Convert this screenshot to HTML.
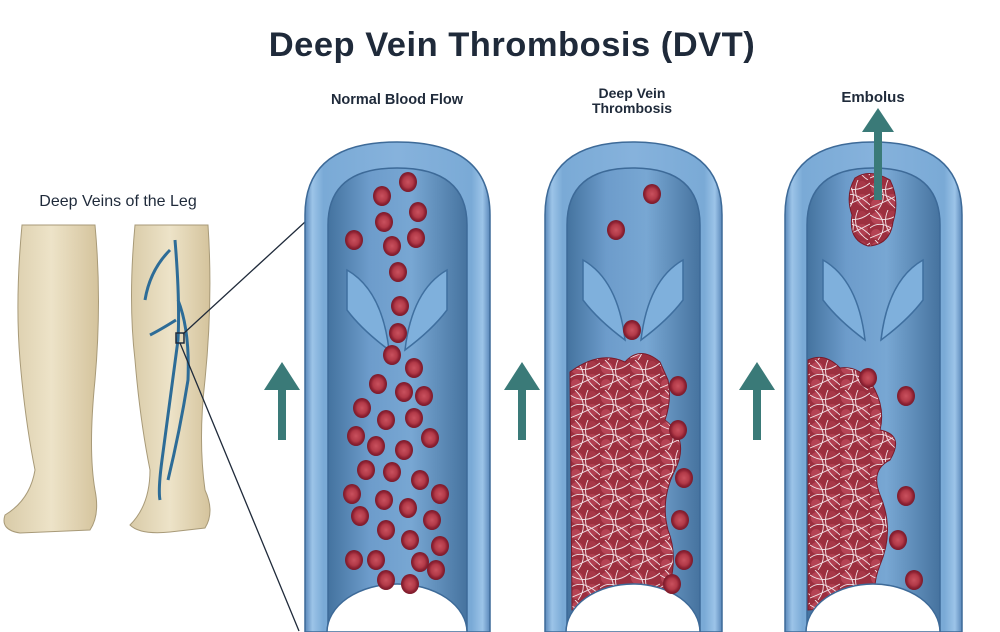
<!DOCTYPE html>
<html><head><meta charset="utf-8">
<style>
html,body{margin:0;padding:0;background:#fff;}
body{width:1000px;height:632px;overflow:hidden;font-family:"Liberation Sans",sans-serif;}
svg{display:block;overflow:hidden;}
</style></head>
<body>
<svg width="1000" height="632" viewBox="0 0 1000 632" xmlns="http://www.w3.org/2000/svg">
<defs>
<linearGradient id="wall" x1="0" x2="1" y1="0" y2="0">
<stop offset="0" stop-color="#5a88ba"/><stop offset="0.04" stop-color="#9cc4e8"/><stop offset="0.1" stop-color="#7aaad6"/><stop offset="0.5" stop-color="#86b2dc"/><stop offset="0.9" stop-color="#7aaad6"/><stop offset="0.96" stop-color="#9cc4e8"/><stop offset="1" stop-color="#5a88ba"/>
</linearGradient>
<linearGradient id="lumen" x1="0" x2="1" y1="0" y2="0">
<stop offset="0" stop-color="#44739f"/><stop offset="0.3" stop-color="#6d9ccb"/><stop offset="0.6" stop-color="#78a7d3"/><stop offset="1" stop-color="#46739f"/>
</linearGradient>
<radialGradient id="rbc" cx="0.5" cy="0.5" r="0.5">
<stop offset="0" stop-color="#c9515e"/><stop offset="0.55" stop-color="#b23a48"/><stop offset="0.8" stop-color="#8e2233"/><stop offset="1" stop-color="#7a1a2a"/>
</radialGradient>
<linearGradient id="skin" x1="0" x2="1"><stop offset="0" stop-color="#d9cba8"/><stop offset="0.5" stop-color="#ede3c8"/><stop offset="1" stop-color="#d4c39c"/></linearGradient>
<pattern id="fib" width="30" height="30" patternUnits="userSpaceOnUse">
<rect width="30" height="30" fill="#9c2f3f"/>
<circle cx="7" cy="8" r="6" fill="#b64455"/><circle cx="22" cy="20" r="6" fill="#b03f50"/><circle cx="22" cy="5" r="4" fill="#a83848"/><circle cx="6" cy="24" r="5" fill="#b54354"/>
<path d="M0 5 Q15 15 30 3 M0 18 Q12 8 30 25 M5 0 Q20 14 8 30 M18 0 Q10 18 28 30 M0 28 Q15 22 30 14" stroke="#f3e6ea" stroke-width="0.9" fill="none"/>
</pattern>
<g id="cell"><ellipse rx="9" ry="10" fill="url(#rbc)"/></g>
<g id="valve">
<path d="M-50 0 Q-15 20 -8 80 Q-35 60 -50 40 Z" fill="#7fb0dc" stroke="#3f6f9f" stroke-width="1.5"/>
<path d="M50 0 Q15 20 8 80 Q35 60 50 40 Z" fill="#7fb0dc" stroke="#3f6f9f" stroke-width="1.5"/>
</g>
</defs>

<text x="512" y="56" text-anchor="middle" font-size="34.5" font-weight="bold" letter-spacing="0.5" fill="#1f2a3a">Deep Vein Thrombosis (DVT)</text>
<text x="397" y="104" text-anchor="middle" font-size="14.5" font-weight="bold" fill="#1f2a3a">Normal Blood Flow</text>
<text x="632" y="98" text-anchor="middle" font-size="14" font-weight="bold" fill="#1f2a3a">Deep Vein</text>
<text x="632" y="113" text-anchor="middle" font-size="14" font-weight="bold" fill="#1f2a3a">Thrombosis</text>
<text x="873" y="102" text-anchor="middle" font-size="15" font-weight="bold" fill="#1f2a3a">Embolus</text>
<text x="118" y="206" text-anchor="middle" font-size="16" fill="#1f2a3a">Deep Veins of the Leg</text>

<path d="M22 225 Q15 300 20 360 Q25 420 35 470 Q30 500 5 515 Q0 530 20 533 L90 530 Q100 515 95 490 Q88 450 95 380 Q102 300 95 225 Z" fill="url(#skin)" stroke="#a89a78" stroke-width="1"/>
<path d="M135 225 Q128 300 135 360 Q140 420 150 470 Q150 505 130 525 Q140 535 170 532 L205 528 Q215 512 205 490 Q198 440 205 380 Q213 300 208 225 Z" fill="url(#skin)" stroke="#a89a78" stroke-width="1"/>
<path d="M175 240 Q180 300 178 340 Q170 400 162 460 Q158 490 160 500 M178 300 Q190 330 188 380 Q180 430 168 480 M170 250 Q150 270 145 300 M176 320 Q160 330 150 335" stroke="#2d6c97" stroke-width="3" fill="none"/>
<rect x="176" y="333" width="8" height="10" fill="none" stroke="#1f2a3a" stroke-width="1.5"/>
<line x1="183" y1="334" x2="305" y2="222" stroke="#1f2a3a" stroke-width="1.3"/>
<line x1="180" y1="343" x2="299" y2="631" stroke="#1f2a3a" stroke-width="1.3"/>

<g fill="#3a7a78">
<rect x="278" y="385" width="8" height="55"/><polygon points="264,390 282,362 300,390"/>
<rect x="518" y="385" width="8" height="55"/><polygon points="504,390 522,362 540,390"/>
<rect x="753" y="385" width="8" height="55"/><polygon points="739,390 757,362 775,390"/>
</g>

<path d="M305 632 L305 215 Q305 142 397 142 Q490 142 490 215 L490 632 Z" fill="url(#wall)" stroke="#3d6a98" stroke-width="1.5"/>
<path d="M328 632 L328 225 Q328 168 397 168 Q467 168 467 225 L467 632 Z" fill="url(#lumen)" stroke="#3d6a98" stroke-width="1.5"/>
<path d="M545 632 L545 215 Q545 142 633 142 Q722 142 722 215 L722 632 Z" fill="url(#wall)" stroke="#3d6a98" stroke-width="1.5"/>
<path d="M567 632 L567 225 Q567 168 633 168 Q700 168 700 225 L700 632 Z" fill="url(#lumen)" stroke="#3d6a98" stroke-width="1.5"/>
<path d="M785 632 L785 215 Q785 142 873 142 Q962 142 962 215 L962 632 Z" fill="url(#wall)" stroke="#3d6a98" stroke-width="1.5"/>
<path d="M807 632 L807 225 Q807 168 873 168 Q940 168 940 225 L940 632 Z" fill="url(#lumen)" stroke="#3d6a98" stroke-width="1.5"/>

<use href="#valve" x="397" y="270"/>
<use href="#valve" x="633" y="260"/>
<use href="#valve" x="873" y="260"/>

<path d="M570 372 Q600 350 625 362 Q640 345 660 362 L668 380 Q672 400 665 420 Q690 440 675 470 Q660 500 668 530 Q680 560 665 600 L572 610 Z" fill="url(#fib)" stroke="#7a1a2a" stroke-width="1"/>
<path d="M808 360 Q825 352 840 368 Q862 365 875 390 Q885 410 880 430 Q905 435 890 460 Q870 470 880 495 Q895 530 880 565 Q870 590 880 605 L808 610 Z" fill="url(#fib)" stroke="#7a1a2a" stroke-width="1"/>
<path d="M855 178 Q870 168 890 180 Q900 200 893 222 Q890 245 868 246 Q848 240 852 215 Q845 195 855 178 Z" fill="url(#fib)" stroke="#7a1a2a" stroke-width="1"/>
<rect x="874" y="128" width="8" height="72" fill="#3a7a78"/>
<polygon points="862,132 878,108 894,132" fill="#3a7a78"/>

<path d="M327 632 A70 48 0 0 1 467 632 Z" fill="#fff" stroke="#3d6a98" stroke-width="1.5"/>
<path d="M566 632 A67 48 0 0 1 700 632 Z" fill="#fff" stroke="#3d6a98" stroke-width="1.5"/>
<path d="M806 632 A67 48 0 0 1 940 632 Z" fill="#fff" stroke="#3d6a98" stroke-width="1.5"/>

<g>
<use href="#cell" x="382" y="196"/><use href="#cell" x="408" y="182"/><use href="#cell" x="354" y="240"/><use href="#cell" x="384" y="222"/><use href="#cell" x="418" y="212"/>
<use href="#cell" x="392" y="246"/><use href="#cell" x="416" y="238"/><use href="#cell" x="398" y="272"/><use href="#cell" x="400" y="306"/><use href="#cell" x="398" y="333"/>
<use href="#cell" x="392" y="355"/><use href="#cell" x="414" y="368"/><use href="#cell" x="378" y="384"/><use href="#cell" x="404" y="392"/><use href="#cell" x="362" y="408"/>
<use href="#cell" x="424" y="396"/><use href="#cell" x="386" y="420"/><use href="#cell" x="414" y="418"/><use href="#cell" x="356" y="436"/><use href="#cell" x="430" y="438"/>
<use href="#cell" x="376" y="446"/><use href="#cell" x="404" y="450"/><use href="#cell" x="366" y="470"/><use href="#cell" x="392" y="472"/><use href="#cell" x="420" y="480"/>
<use href="#cell" x="440" y="494"/><use href="#cell" x="352" y="494"/><use href="#cell" x="384" y="500"/><use href="#cell" x="408" y="508"/><use href="#cell" x="360" y="516"/>
<use href="#cell" x="432" y="520"/><use href="#cell" x="386" y="530"/><use href="#cell" x="410" y="540"/><use href="#cell" x="376" y="560"/><use href="#cell" x="354" y="560"/>
<use href="#cell" x="420" y="562"/><use href="#cell" x="440" y="546"/><use href="#cell" x="386" y="580"/><use href="#cell" x="410" y="584"/><use href="#cell" x="436" y="570"/>
<use href="#cell" x="652" y="194"/><use href="#cell" x="616" y="230"/><use href="#cell" x="632" y="330"/><use href="#cell" x="678" y="386"/><use href="#cell" x="678" y="430"/>
<use href="#cell" x="684" y="478"/><use href="#cell" x="680" y="520"/><use href="#cell" x="684" y="560"/><use href="#cell" x="672" y="584"/>
<use href="#cell" x="868" y="378"/><use href="#cell" x="906" y="396"/><use href="#cell" x="906" y="496"/><use href="#cell" x="898" y="540"/><use href="#cell" x="914" y="580"/>
</g>
</svg>
</body></html>
